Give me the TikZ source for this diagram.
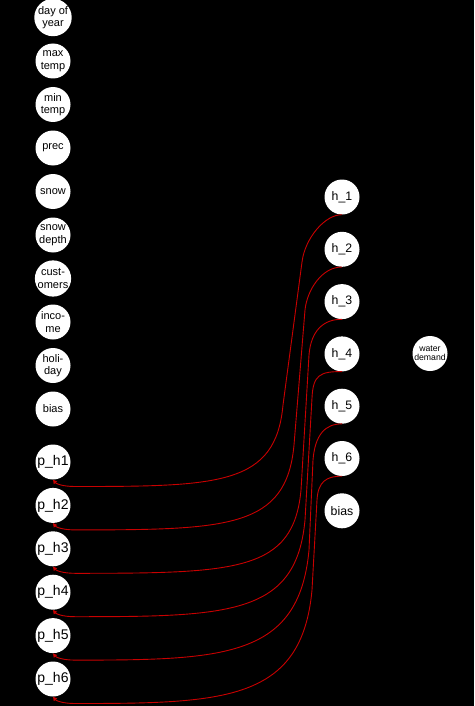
\documentclass[tikz,border=0pt]{standalone}
\usepackage{fontspec}
\setmainfont{Liberation Sans}
\usetikzlibrary{arrows.meta}
\definecolor{linkred}{RGB}{200,0,0}
\begin{document}
\begin{tikzpicture}[x=1pt,y=-1pt,
  unit/.style={circle,fill=white,draw=none,inner sep=0pt,minimum size=35pt,align=center,text=black},
  feat/.style={unit,font=\fontsize{11}{12.4}\selectfont},
  ph/.style={unit,font=\fontsize{14}{16}\selectfont},
  hid/.style={unit,font=\fontsize{12.3}{14}\selectfont},
  outn/.style={unit,font=\fontsize{8.7}{9.3}\selectfont},
  link/.style={draw=linkred,line width=0.9pt,-{Triangle[length=4pt,width=4pt]}}]
\useasboundingbox (0,0) rectangle (474,706);
\fill[black] (0,0) rectangle (474,706);
% input column
\node[feat] (i1) at (53,17.5) {day of\\year};
\node[feat] (i2) at (53,61) {max\\temp};
\node[feat] (i3) at (53,104.5) {min\\temp};
\node[feat] (i4) at (53,148) {prec};
\node[feat] (i5) at (53,191.5) {snow};
\node[feat] (i6) at (53,235) {snow\\depth};
\node[feat] (i7) at (53,278.5) {cust-\\omers};
\node[feat] (i8) at (53,322) {inco-\\me};
\node[feat] (i9) at (53,365.5) {holi-\\day};
\node[feat] (i10) at (53,409) {bias};
\node[ph] (p1) at (53,462) {p\_h1};
\node[ph] (p2) at (53,505.4) {p\_h2};
\node[ph] (p3) at (53,548.8) {p\_h3};
\node[ph] (p4) at (53,592.2) {p\_h4};
\node[ph] (p5) at (53,635.6) {p\_h5};
\node[ph] (p6) at (53,679) {p\_h6};
% hidden column
\node[hid] (h1) at (342,197) {h\_1};
\node[hid] (h2) at (342,249.3) {h\_2};
\node[hid] (h3) at (342,301.6) {h\_3};
\node[hid] (h4) at (342,353.9) {h\_4};
\node[hid] (h5) at (342,406.2) {h\_5};
\node[hid] (h6) at (342,458.5) {h\_6};
\node[hid] (hb) at (342,510.8) {bias};
% output
\node[outn] (o) at (430,353.5) {water\\demand};
% connectors
\draw[link] (h1.south) .. controls (325,214.5) and (305,238) .. (302,262) -- (283,405)
  .. controls (275.7,484.9) and (220.2,486.5) .. (75,486.5)
  .. controls (62,486.5) and (56,483.5) .. (p1.south);
\draw[link] (h2.south) .. controls (322,266.8) and (307,290) .. (305,310) -- (294,445)
  .. controls (286.4,528.2) and (228.6,529.9) .. (75,529.9)
  .. controls (62,529.9) and (56,526.9) .. (p2.south);
\draw[link] (h3.south) .. controls (324,319.1) and (311,330) .. (309,355) -- (301,490)
  .. controls (293.5,571.6) and (236.9,573.3) .. (75,573.3)
  .. controls (62,573.3) and (56,570.3) .. (p3.south);
\draw[link] (h4.south) .. controls (320,371.4) and (313,375) .. (312,398) -- (305,520)
  .. controls (296.3,614.8) and (230.5,616.7) .. (75,616.7)
  .. controls (62,616.7) and (56,613.7) .. (p4.south);
\draw[link] (h5.south) .. controls (325,423.7) and (315,435) .. (313,460) -- (309,550)
  .. controls (299.1,657.9) and (224.2,660.1) .. (75,660.1)
  .. controls (62,660.1) and (56,657.1) .. (p5.south);
\draw[link] (h6.south) .. controls (326,476) and (318,482) .. (317,500) -- (312,590)
  .. controls (301.8,701.2) and (224.6,703.5) .. (75,703.5)
  .. controls (62,703.5) and (56,700.5) .. (p6.south);
\end{tikzpicture}
\end{document}
